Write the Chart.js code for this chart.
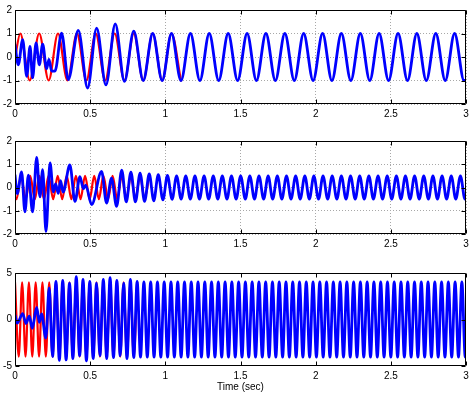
<!DOCTYPE html>
<html>
<head>
<meta charset="utf-8">
<script src="https://cdn.jsdelivr.net/npm/chart.js@4.4.0/dist/chart.umd.min.js"></script>
<style>
    html, body { margin: 0; padding: 0; background: #fff; }
    #wrap { position: relative; width: 474px; height: 395px; overflow: hidden; }
    canvas { position: absolute; left: 0; }
</style>
</head>
<body>
<div id="wrap">
    <canvas id="topChart" width="474" height="125" style="top:0"></canvas>
    <canvas id="midChart" width="474" height="130" style="top:125px"></canvas>
    <canvas id="botChart" width="474" height="140" style="top:255px"></canvas>
</div>
<script>
// x axis (shared by all three panels)
const xTicks = [0, 0.5, 1, 1.5, 2, 2.5, 3];
const xTickLabels = ["0", "0.5", "1", "1.5", "2", "2.5", "3"];
const xTitle = "Time (sec)";

// top panel
const topYTicks = [-2, -1, 0, 1, 2];
const topRedT = [0, 0.035, 0.098, 0.161, 0.224, 0.286, 0.349, 0.412, 0.475, 0.537, 0.600, 0.663, 0.728, 0.790, 0.853, 0.916, 0.979, 1.041, 1.104];
const topRedY = [-0.05, 1, -1, 1, -1, 1, -1, 1, -1, 1, -1, 1, -1, 1, -1, 1, -1, 1, -1];
const topBlueT = [0, 0.022, 0.051, 0.078, 0.100, 0.117, 0.140, 0.162, 0.184, 0.210, 0.226, 0.244, 0.266, 0.310, 0.354, 0.421, 0.483, 0.543, 0.605, 0.667, 0.728, 0.790, 0.853,
    0.916, 0.979, 1.041, 1.104, 1.167, 1.230, 1.292, 1.355, 1.418, 1.481, 1.544, 1.606, 1.669, 1.732, 1.795, 1.858, 1.920, 1.983,
    2.046, 2.108, 2.171, 2.234, 2.297, 2.360, 2.422, 2.485, 2.548, 2.611, 2.673, 2.736, 2.799, 2.862, 2.924, 2.987, 3.0];
const topBlueY = [0.52, -0.33, 0.74, -0.82, 0.45, -0.89, 0.60, -0.33, 0.55, -0.50, -0.10, -0.60, -0.60, 1.02, -0.96, 1.13, -1.32, 1.23, -1.19, 1.41, -1.04, 1.10, -1.00,
    1, -1, 1, -1, 1, -1, 1, -1, 1, -1, 1, -1, 1, -1, 1, -1, 1, -1,
    1, -1, 1, -1, 1, -1, 1, -1, 1, -1, 1, -1, 1, -1, 1, -1, -0.98];

// middle panel
const midYTicks = [-2, -1, 0, 1, 2];
const midRedT = [0, 0.010, 0.040, 0.071, 0.101, 0.132, 0.162, 0.193, 0.223, 0.254, 0.284, 0.314, 0.344, 0.375, 0.405, 0.436,
    0.466, 0.497, 0.527, 0.558, 0.588, 0.619, 0.649, 0.680, 0.710, 0.740, 0.771, 0.801, 0.832, 0.862, 0.893];
const midRedY = [-0.45, -0.5, 0.5, -0.5, 0.5, -0.5, 0.5, -0.5, 0.5, -0.5, 0.5, -0.5, 0.5, -0.5, 0.5, -0.5,
    0.5, -0.5, 0.5, -0.5, 0.5, -0.5, 0.5, -0.5, 0.5, -0.5, 0.5, -0.5, 0.5, -0.5, 0.5];
const midBlueT = [0, 0.015, 0.044, 0.066, 0.089, 0.117, 0.144, 0.166, 0.184, 0.206, 0.233, 0.255, 0.270, 0.288, 0.303, 0.320,
    0.365, 0.399, 0.432, 0.455, 0.470, 0.510, 0.576, 0.609, 0.642, 0.676,
    0.710, 0.740, 0.771, 0.801, 0.832, 0.862, 0.893, 0.923, 0.953, 0.984,
    1.014, 1.045, 1.075, 1.105, 1.136, 1.166, 1.197, 1.227, 1.258, 1.288,
    1.319, 1.349, 1.379, 1.410, 1.440, 1.471, 1.501, 1.532, 1.562, 1.593,
    1.623, 1.654, 1.684, 1.714, 1.745, 1.775, 1.806, 1.836, 1.867, 1.897,
    1.928, 1.958, 1.988, 2.019, 2.049, 2.080, 2.110, 2.141, 2.171, 2.202,
    2.232, 2.263, 2.293, 2.323, 2.354, 2.384, 2.415, 2.445, 2.476, 2.506,
    2.537, 2.567, 2.597, 2.628, 2.658, 2.689, 2.719, 2.750, 2.780, 2.810,
    2.841, 2.871, 2.902, 2.932, 2.963, 2.993, 3.0];
const midBlueY = [0.53, -0.26, 0.67, -1.05, 0.53, -1.05, 1.29, -0.40, 0.77, -1.90, 1.06, -0.19, 0.15, -0.25, 0.30, -0.20,
    0.97, -0.60, 0.47, -0.05, 0.10, -0.74, 0.69, -0.67, 0.40, -0.81,
    0.75, -0.62, 0.66, -0.62, 0.62, -0.60, 0.58, -0.57, 0.55, -0.53,
    0.52, -0.51, 0.5, -0.5, 0.5, -0.5, 0.5, -0.5, 0.5, -0.5,
    0.5, -0.5, 0.5, -0.5, 0.5, -0.5, 0.5, -0.5, 0.5, -0.5,
    0.5, -0.5, 0.5, -0.5, 0.5, -0.5, 0.5, -0.5, 0.5, -0.5,
    0.5, -0.5, 0.5, -0.5, 0.5, -0.5, 0.5, -0.5, 0.5, -0.5,
    0.5, -0.5, 0.5, -0.5, 0.5, -0.5, 0.5, -0.5, 0.5, -0.5,
    0.5, -0.5, 0.5, -0.5, 0.5, -0.5, 0.5, -0.5, 0.5, -0.5,
    0.5, -0.5, 0.5, -0.5, 0.5, -0.5, -0.47];

// bottom panel
const botYTicks = [-5, 0, 5];
const botRedT = [0, 0.025, 0.0475, 0.07, 0.0925, 0.115, 0.1375, 0.16, 0.1825, 0.205, 0.2275, 0.25, 0.2725, 0.295, 0.3175, 0.34,
    0.3625, 0.385, 0.4075, 0.43, 0.4525, 0.475, 0.4975, 0.52, 0.5425, 0.565, 0.5875, 0.61, 0.6325, 0.655, 0.6775, 0.7,
    0.7225, 0.745, 0.7675, 0.79, 0.8125];
const botRedY = [4, -4, 4, -4, 4, -4, 4, -4, 4, -4, 4, -4, 4, -4, 4, -4,
    4, -4, 4, -4, 4, -4, 4, -4, 4, -4, 4, -4, 4, -4, 4, -4,
    4, -4, 4, -4, 4];
const botBlueT = [0, 0.015, 0.051, 0.073, 0.095, 0.115, 0.144, 0.162, 0.177, 0.205,
    0.2275, 0.25, 0.2725, 0.295, 0.3175, 0.34, 0.3625, 0.385, 0.4075, 0.43, 0.4525, 0.475, 0.4975, 0.52,
    0.5425, 0.565, 0.5875, 0.61, 0.6325, 0.655, 0.6775, 0.7, 0.7225, 0.745, 0.7675, 0.79, 0.8125, 0.835,
    0.8575, 0.88, 0.9025, 0.925, 0.9475, 0.97, 0.9925, 1.015, 1.0375, 1.06, 1.0825, 1.105, 1.1275, 1.15,
    1.1725, 1.195, 1.2175, 1.24, 1.2625, 1.285, 1.3075, 1.33, 1.3525, 1.375, 1.3975, 1.42, 1.4425, 1.465,
    1.4875, 1.51, 1.5325, 1.555, 1.5775, 1.6, 1.6225, 1.645, 1.6675, 1.69, 1.7125, 1.735, 1.7575, 1.78,
    1.8025, 1.825, 1.8475, 1.87, 1.8925, 1.915, 1.9375, 1.96, 1.9825, 2.005, 2.0275, 2.05, 2.0725, 2.095,
    2.1175, 2.14, 2.1625, 2.185, 2.2075, 2.23, 2.2525, 2.275, 2.2975, 2.32, 2.3425, 2.365, 2.3875, 2.41,
    2.4325, 2.455, 2.4775, 2.5, 2.5225, 2.545, 2.5675, 2.59, 2.6125, 2.635, 2.6575, 2.68, 2.7025, 2.725,
    2.7475, 2.77, 2.7925, 2.815, 2.8375, 2.86, 2.8825, 2.905, 2.9275, 2.95, 2.9725, 2.995, 3.0];
const botBlueY = [0.46, -0.4, 0.64, -0.43, 0.35, -0.96, 1.3, -0.3, 0.6, -2.0,
    3.4, -4.0, 4.1, -4.4, 4.2, -4.35, 3.9, -4.2, 4.6, -3.9, 4.3, -4.45, 4.1, -4.2,
    3.9, -3.9, 4.3, -4.2, 4.5, -4.1, 4.2, -3.9, 3.9, -4.2, 4.3, -4.1, 4.1, -4.05,
    4.05, -4.05, 4.05, -4.05, 4.05, -4.05, 4.05, -4.05, 4.05, -4.05, 4.05, -4.05, 4.05, -4.05,
    4.05, -4.05, 4.05, -4.05, 4.05, -4.05, 4.05, -4.05, 4.05, -4.05, 4.05, -4.05, 4.05, -4.05,
    4.05, -4.05, 4.05, -4.05, 4.05, -4.05, 4.05, -4.05, 4.05, -4.05, 4.05, -4.05, 4.05, -4.05,
    4.05, -4.05, 4.05, -4.05, 4.05, -4.05, 4.05, -4.05, 4.05, -4.05, 4.05, -4.05, 4.05, -4.05,
    4.05, -4.05, 4.05, -4.05, 4.05, -4.05, 4.05, -4.05, 4.05, -4.05, 4.05, -4.05, 4.05, -4.05,
    4.05, -4.05, 4.05, -4.05, 4.05, -4.05, 4.05, -4.05, 4.05, -4.05, 4.05, -4.05, 4.05, -4.05,
    4.05, -4.05, 4.05, -4.05, 4.05, -4.05, 4.05, -4.05, 4.05, -4.05, 4.05, -4.05, -3.95];

const FONT = { family: "'Liberation Sans', Arial, Helvetica, sans-serif", size: 10 };

function toPoints(ts, ys) {
    return ts.map((t, i) => ({ x: t, y: ys[i] }));
}

/**
 * Black box with inward ticks on all four sides (MATLAB style)
 */
const boxPlugin = {
    id: "box",
    afterDatasetsDraw(chart) {
        let ctx = chart.ctx;
        let a = chart.chartArea;
        let xs = chart.scales.x, ys = chart.scales.y;
        let L = Math.round(a.left) + 0.5, R = Math.round(a.right) - 0.5;
        let T = Math.round(a.top) + 0.5, B = Math.round(a.bottom) - 0.5;
        ctx.save();
        ctx.strokeStyle = "#000";
        ctx.lineWidth = 1;
        ctx.beginPath();
        ctx.rect(L, T, R - L, B - T);
        xs.ticks.forEach(t => {
            let px = Math.round(xs.getPixelForValue(t.value)) + 0.5;
            ctx.moveTo(px, B); ctx.lineTo(px, B - 4);
            ctx.moveTo(px, T); ctx.lineTo(px, T + 4);
        });
        ys.ticks.forEach(t => {
            let py = Math.round(ys.getPixelForValue(t.value)) + 0.5;
            ctx.moveTo(L, py); ctx.lineTo(L + 4, py);
            ctx.moveTo(R, py); ctx.lineTo(R - 4, py);
        });
        ctx.stroke();
        ctx.restore();
    }
};

function makePanel(id, cfg) {
    let ctx = document.getElementById(id).getContext("2d");
    let gridOpts = {
        display: true,
        drawOnChartArea: cfg.grid,
        drawTicks: false,
        color: "#a8a8a8",
        lineWidth: 1
    };
    return new Chart(ctx, {
        type: "line",
        data: {
            datasets: [{
                data: toPoints(cfg.blueT, cfg.blueY),
                borderColor: "#0000ff",
                borderWidth: 2.8,
                pointRadius: 0,
                cubicInterpolationMode: "monotone",
                borderJoinStyle: "round",
                borderCapStyle: "round",
                order: 0
            }, {
                data: toPoints(cfg.redT, cfg.redY),
                borderColor: "#ff0000",
                borderWidth: 2.2,
                pointRadius: 0,
                cubicInterpolationMode: "monotone",
                borderJoinStyle: "round",
                borderCapStyle: "round",
                order: 1
            }]
        },
        options: {
            responsive: false,
            animation: false,
            devicePixelRatio: 1,
            layout: { padding: { top: cfg.padTop, right: 8, left: 0, bottom: 0 } },
            plugins: { legend: { display: false }, tooltip: { enabled: false } },
            scales: {
                x: {
                    type: "linear",
                    min: 0,
                    max: 3,
                    afterBuildTicks: s => { s.ticks = xTicks.map(v => ({ value: v })); },
                    afterFit: s => { s.height = cfg.xHeight; },
                    ticks: {
                        font: FONT, color: "#000", padding: 4, maxRotation: 0, autoSkip: false,
                        callback: (v, i) => xTickLabels[i]
                    },
                    grid: gridOpts,
                    border: { display: false, dash: [1, 2] },
                    title: {
                        display: cfg.title,
                        text: xTitle,
                        font: FONT,
                        color: "#000",
                        padding: { top: 0, bottom: 2 }
                    }
                },
                y: {
                    type: "linear",
                    min: cfg.yTicks[0],
                    max: cfg.yTicks[cfg.yTicks.length - 1],
                    afterBuildTicks: s => { s.ticks = cfg.yTicks.map(v => ({ value: v })); },
                    afterFit: s => { s.width = 15; },
                    ticks: { font: FONT, color: "#000", padding: 3 },
                    grid: gridOpts,
                    border: { display: false, dash: [1, 2] }
                }
            }
        },
        plugins: [boxPlugin]
    });
}

makePanel("topChart", {
    blueT: topBlueT, blueY: topBlueY, redT: topRedT, redY: topRedY,
    yTicks: topYTicks, padTop: 10, xHeight: 21, grid: true, title: false
});
makePanel("midChart", {
    blueT: midBlueT, blueY: midBlueY, redT: midRedT, redY: midRedY,
    yTicks: midYTicks, padTop: 16, xHeight: 21, grid: true, title: false
});
makePanel("botChart", {
    blueT: botBlueT, blueY: botBlueY, redT: botRedT, redY: botRedY,
    yTicks: botYTicks, padTop: 18, xHeight: 29, grid: false, title: true
});
</script>
</body>
</html>
